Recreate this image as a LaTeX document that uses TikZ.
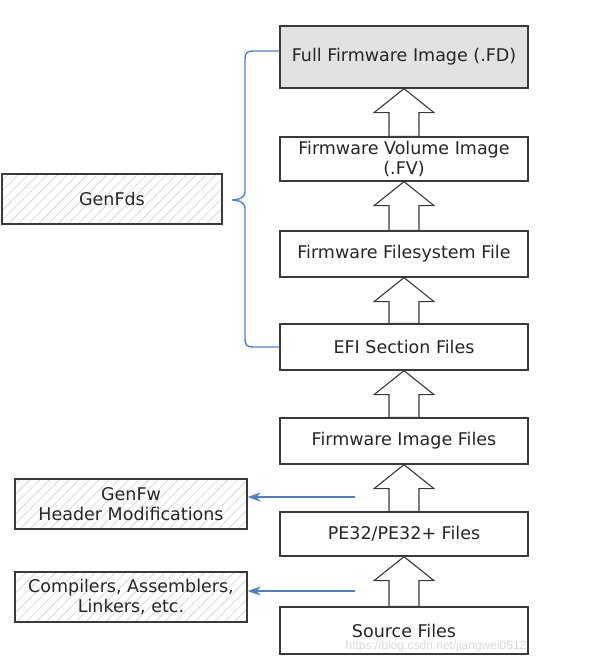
\documentclass[tikz,border=0pt]{standalone}
\usepackage{fontspec}
\setmainfont{DejaVu Sans}
\newfontfamily\wmfont{Liberation Sans}
\usetikzlibrary{patterns.meta,arrows.meta,calc}
\definecolor{boxline}{HTML}{3A3A3A}
\definecolor{fdfill}{HTML}{E2E2E2}
\definecolor{bluel}{HTML}{4F7FC8}
\definecolor{hatchc}{HTML}{CFCFCF}
\newcommand\blockarrow[2]{%
  \draw[blockarr] (#1.south) -- ++(30,24) -- ++(-15,0) -- ($(#2.north)+(15,0)$)
    -- ($(#2.north)+(-15,0)$) -- ($(#1.south)+(-15,24)$) -- ++(-15,0) -- cycle;}
\begin{document}
\begin{tikzpicture}[x=1pt,y=-1pt,
  txt/.style={font=\fontsize{17.5}{20.5}\selectfont, text=black!85, align=center, inner sep=0pt},
  filebox/.style={txt, draw=boxline, line width=1.3pt, minimum width=248pt, fill=white},
  toolbox/.style={txt, draw=boxline, line width=1.3pt,
    pattern={Lines[angle=45,distance=7pt,line width=0.6pt]}, pattern color=hatchc},
  blockarr/.style={draw=boxline, line width=1.1pt, fill=white, line join=miter},
  bluearr/.style={draw=bluel, line width=1.6pt, -{Stealth[length=13pt,width=9pt]}},
  bracestyle/.style={draw=bluel, line width=1.4pt},
  wm/.style={font=\wmfont\fontsize{12}{14}\selectfont, text=black!15, inner sep=0pt}
]
\useasboundingbox (0,0) rectangle (596,668);

% file boxes (right column)
\node[filebox, fill=fdfill, minimum height=62pt] (FD)  at (404,57)  {Full Firmware Image (.FD)};
\node[filebox, minimum height=44pt] (FV)  at (404,159) {Firmware Volume Image\\(.FV)};
\node[filebox, minimum height=46pt] (FFS) at (404,254) {Firmware Filesystem File};
\node[filebox, minimum height=46pt] (EFI) at (404,347) {EFI Section Files};
\node[filebox, minimum height=46pt] (FIF) at (404,441) {Firmware Image Files};
\node[filebox, minimum height=44pt] (PE)  at (404,534) {PE32/PE32+ Files};
\node[filebox, minimum height=47pt] (SRC) at (404,630.5) {Source Files};

% hollow block arrows
\blockarrow{FD}{FV}
\blockarrow{FV}{FFS}
\blockarrow{FFS}{EFI}
\blockarrow{EFI}{FIF}
\blockarrow{FIF}{PE}
\blockarrow{PE}{SRC}

% tool boxes (left)
\node[toolbox, minimum width=220pt, minimum height=50pt] (GFD) at (112,199) {GenFds};
\node[toolbox, minimum width=232pt, minimum height=50pt] (GFW) at (131,504) {GenFw\\Header Modifications};
\node[toolbox, minimum width=232pt, minimum height=50pt] (CMP) at (131,597) {Compilers, Assemblers,\\Linkers, etc.};

% blue arrows
\coordinate (a1) at (355,497);
\coordinate (a2) at (355,591);
\draw[bluearr] (a1) -- (GFW.east |- a1);
\draw[bluearr] (a2) -- (CMP.east |- a2);

% brace
\draw[bracestyle] ($(FD.west)+(0,-6)$) -- (253,51)
  .. controls (247,51) and (245,53) .. (245,59) -- (245,192)
  .. controls (245,198) and (238,200) .. (232,200)
  .. controls (238,200) and (245,202) .. (245,208) -- (245,339)
  .. controls (245,345) and (247,347) .. (253,347) -- (EFI.west);

% watermark
\node[wm] (WM) at (436,646) {https://blog.csdn.net/jiangwei0512};
\end{tikzpicture}
\end{document}
